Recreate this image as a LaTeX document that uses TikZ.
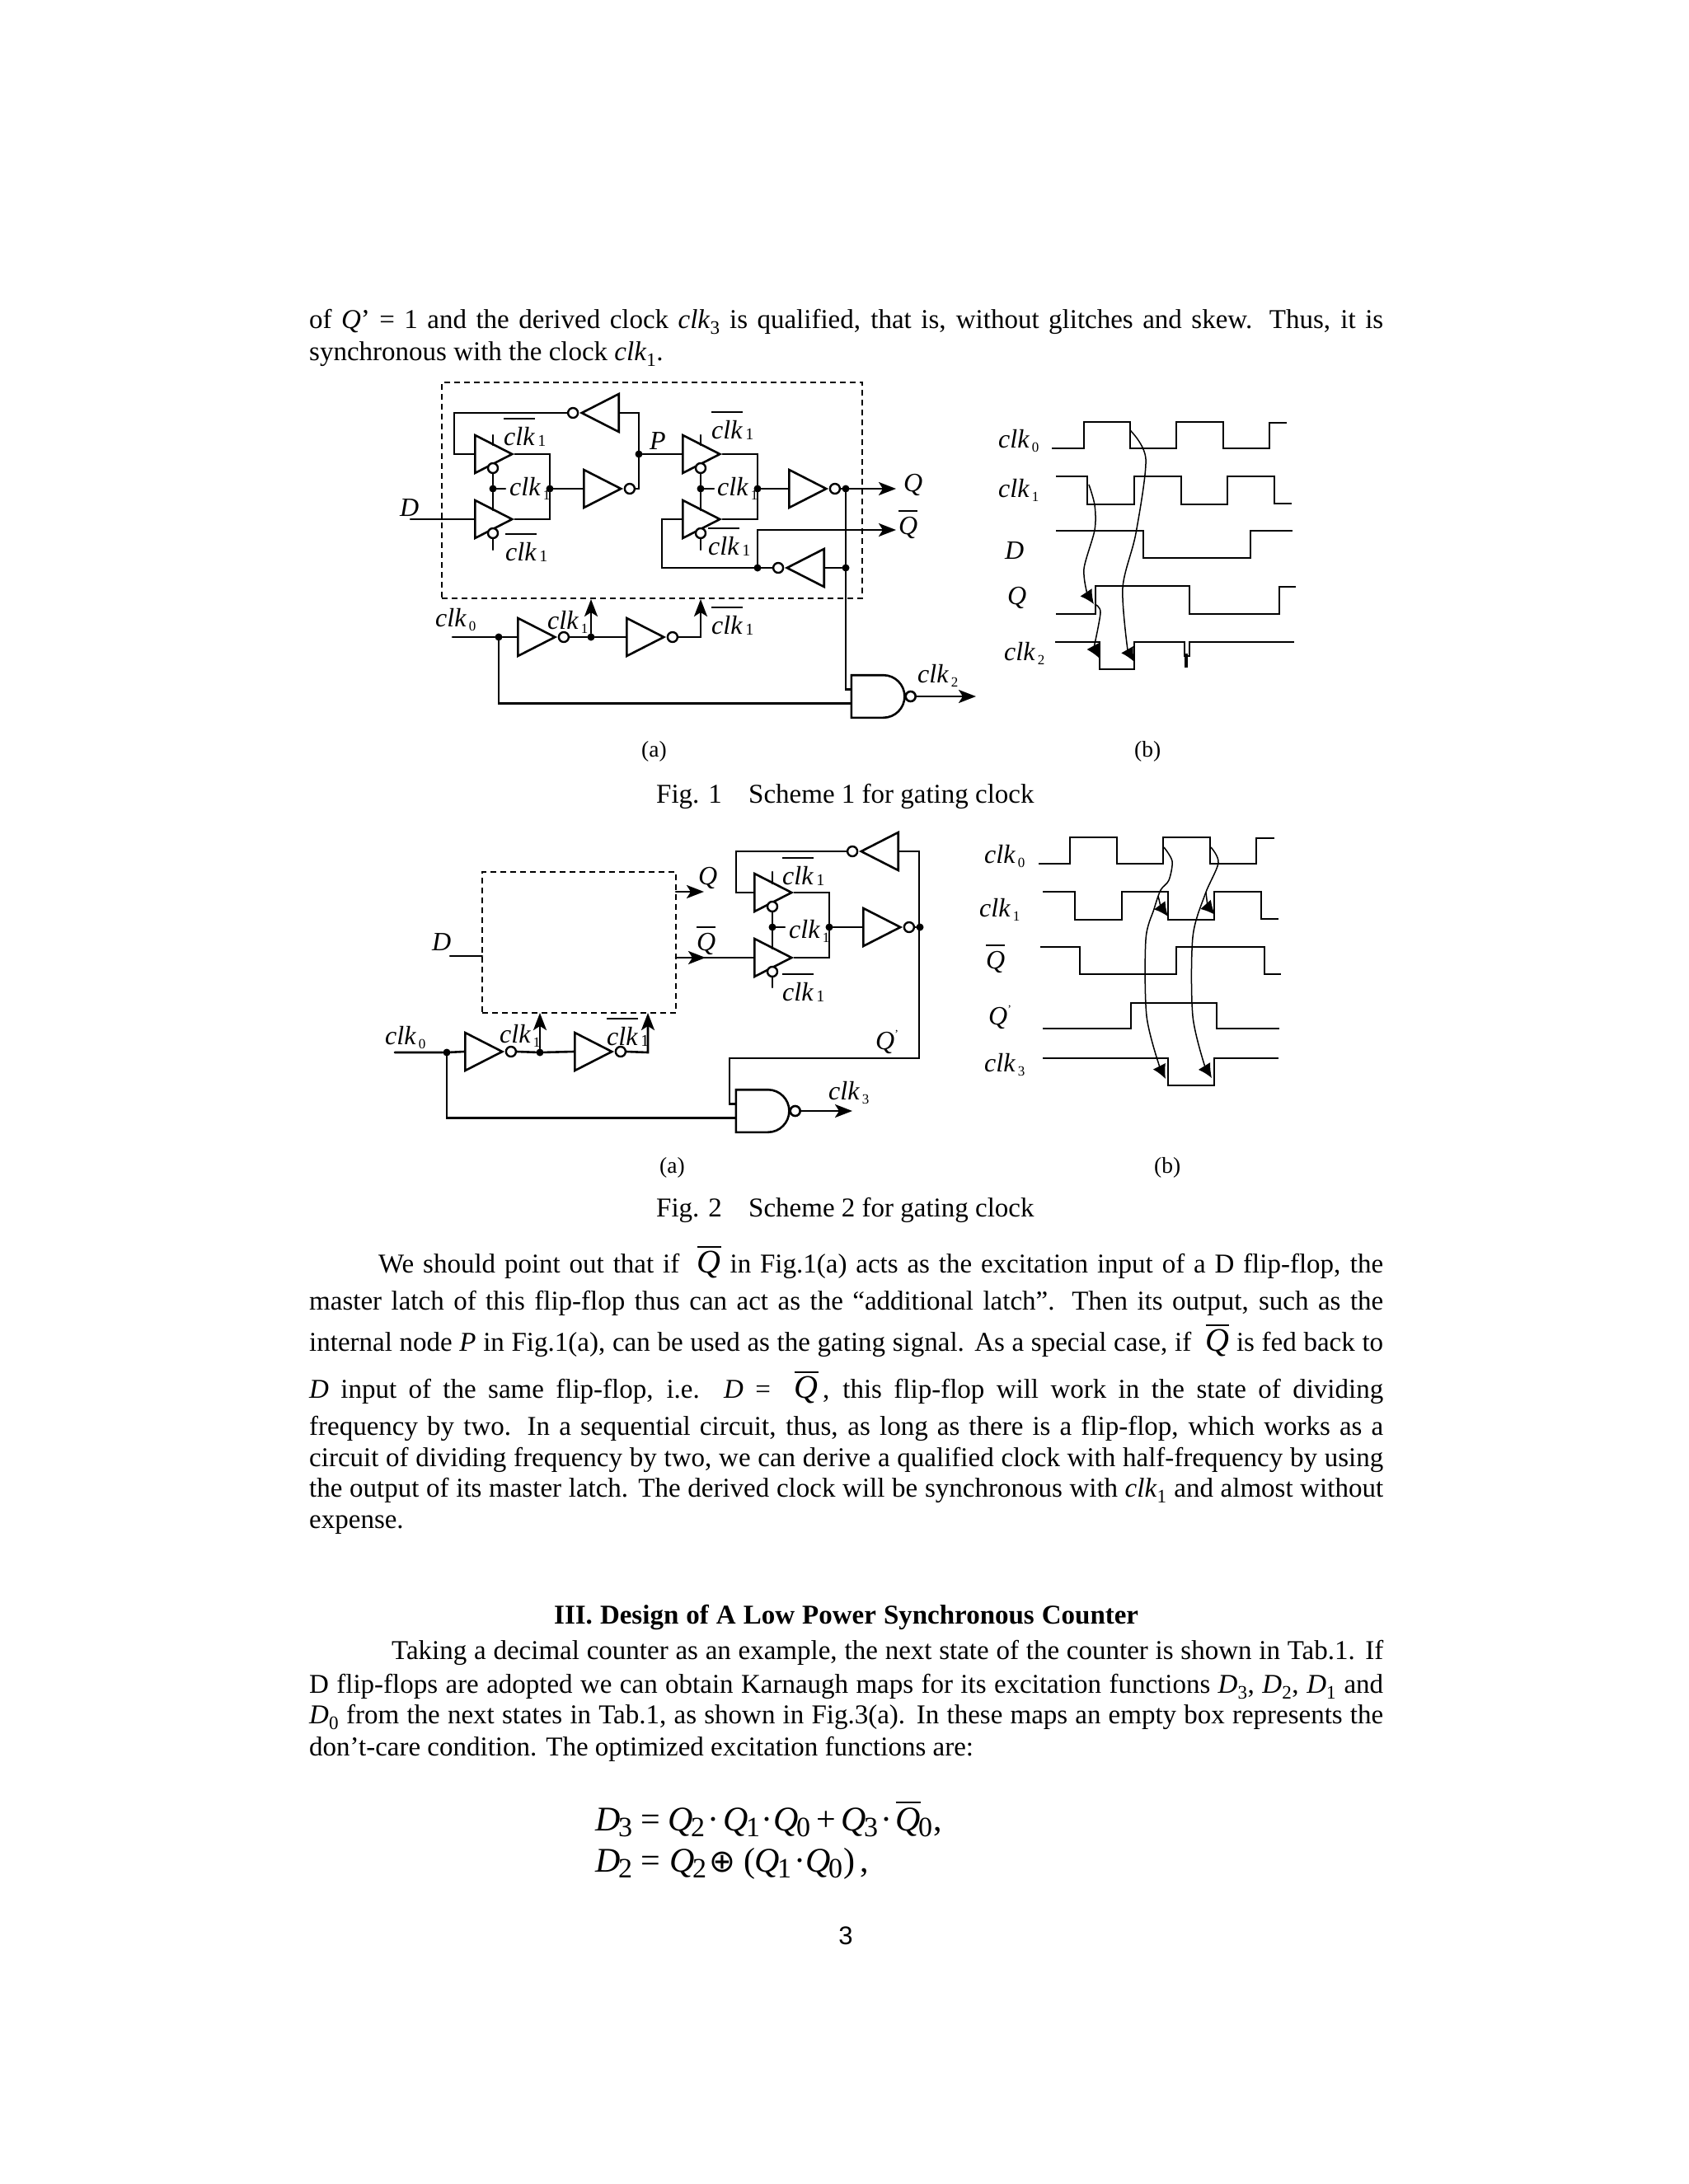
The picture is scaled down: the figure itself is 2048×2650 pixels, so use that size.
\documentclass[tikz,border=0pt]{standalone}
\usepackage{fontspec}
\setmainfont{Liberation Serif}
\newfontfamily\arialf{Liberation Sans}
\newfontfamily\djvf{DejaVu Sans}
\usetikzlibrary{arrows.meta,shapes.geometric,shapes.gates.logic.US}
\newcommand\bodyf{\fontsize{33}{38}\selectfont}
\newcommand\lbf{\fontsize{32}{32}\selectfont}
\newcommand\capf{\fontsize{27.5}{30}\selectfont}
\newcommand\eqf{\fontsize{42}{42}\selectfont\itshape}
\newcommand\ovr[2]{\leavevmode\vbox{\hrule height 2pt\vskip #1\hbox{#2}}}
\newcommand\clk[1]{\textit{clk}\raisebox{-5pt}{\fontsize{17}{17}\selectfont\,#1}}
\newcommand\clkb[1]{\ovr{9pt}{\textit{clk}}\raisebox{-1pt}{\fontsize{20}{20}\selectfont\,#1}}
\newcommand\qb{\ovr{6pt}{\textit{Q}}}
\newcommand\bq{{\fontsize{40}{40}\selectfont\ovr{4pt}{\textit{Q}}}}
\newcommand\ats[2]{\makebox[0pt][l]{\hspace{#1pt}#2}}
\newcommand\es[1]{\kern-3pt\raisebox{-7pt}{\fontsize{34}{34}\selectfont\upshape #1}}
\tikzset{
  wirex/.style={line width=2.6pt,line cap=round,line join=miter},
  thinw/.style={line width=1.5pt},
  gatex/.style={isosceles triangle,isosceles triangle stretches,draw,line width=2.6pt,inner sep=0pt,minimum width=46pt,minimum height=45pt},
  bub/.style={circle,draw,line width=2.4pt,fill=white,inner sep=0pt,minimum size=12pt},
  jdot/.style={circle,fill=black,inner sep=0pt,minimum size=9pt},
  boxd/.style={rectangle,draw,dashed,dash pattern=on 7pt off 5pt,line width=2pt,inner sep=0pt},
  nandg/.style={nand gate US,draw,logic gate inputs=nn,line width=2.6pt,inner sep=0pt,minimum height=45pt,minimum width=52pt,logic gate inverted radius=6pt},
  lab/.style={inner sep=0pt,anchor=base west,font=\lbf},
  tx/.style={inner sep=0pt,anchor=base west,font=\bodyf,yshift=-1.5pt},
  captxt/.style={inner sep=0pt,anchor=base west,font=\capf},
  arr/.style={-{Stealth[length=21pt,width=16pt,inset=5pt]}},
  harr/.style={thinw,-{Latex[length=17pt,width=17pt]}},
  wave/.style={line width=2.6pt,line join=miter},
}
\newcommand\invR[3]{\node[gatex,anchor=lower side] (#1) at (#2,#3) {}; \node[bub,anchor=west] (#1b) at (#1.apex) {};}
\newcommand\invL[3]{\node[gatex,shape border rotate=180,anchor=lower side] (#1) at (#2,#3) {}; \node[bub,anchor=east] (#1b) at (#1.apex) {};}
\newcommand\tg[3]{\node[gatex,anchor=lower side] (#1) at (#2,#3) {}; \coordinate (#1t) at (#2+23,#3-11); \node[bub] (#1b) at (#2+23,#3+17) {};}
\begin{document}
\begin{tikzpicture}[x=1pt,y=-1pt]
\useasboundingbox (0,0) rectangle (2048,2650);
\fill[white] (0,0) rectangle (2048,2650);
% ---------- body text top
\node[tx] (t1) at (375,397) {\makebox[1303pt][s]{of \textit{Q}’ = 1 and the derived clock \textit{clk}\textsubscript{3} is qualified, that is, without glitches and skew. Thus, it is}};
\node[tx] (t2) at (375,436) {synchronous with the clock \textit{clk}\textsubscript{1}.};
% ---------- Fig 1(a)
\node[boxd,minimum width=510pt,minimum height=262pt] (bx1) at (791,595) {};
\invL{f1}{752}{501}
\tg{a1}{575}{551} \tg{a2}{575}{630}
\invR{i1}{707}{593}
\tg{a3}{827}{551} \tg{a4}{827}{630}
\invR{i2}{956}{593}
\invL{f2}{1001}{689}
\invR{c1}{627}{773}
\invR{c2}{759}{773}
\node[jdot] (ja) at (598,593) {};
\node[jdot] (jb) at (667,593) {};
\node[jdot] (jp) at (775,551) {};
\node[jdot] (jc) at (850,593) {};
\node[jdot] (jd) at (919,593) {};
\node[jdot] (je) at (1026,593) {};
\node[jdot] (jf) at (919,689) {};
\node[jdot] (jg) at (1026,689) {};
\node[jdot] (jh) at (605,773) {};
\node[jdot] (ji) at (717,773) {};
\node[nandg] (n1) at (1063,845) {};
\coordinate (k1) at (551,501);
\coordinate (k2) at (775,501);
\coordinate (k3) at (803,630);
\coordinate (dIn) at (498,630);
\coordinate (oQ) at (1087,593);
\coordinate (oQb) at (1087,643);
\coordinate (kq) at (919,643);
\coordinate (c0) at (549,773);
\coordinate (up1) at (717,727);
\coordinate (up2) at (850,727);
\coordinate (kc2) at (850,773);
\coordinate (oc2) at (1184,845);
\draw[wirex] (f1b.west) -- (k1) |- (a1.lower side);
\draw[wirex] (i1b.east) -| (k2) -- (f1.lower side);
\draw[wirex] (jp) -- (a3.lower side);
\draw[wirex] (a1.apex) -| (jb) |- (a2.apex);
\draw[wirex] (jb) -- (i1.lower side);
\draw[wirex] (a1b.south) -- (ja) -- (a2t);
\draw[wirex] (a1t) -- (598,528);
\draw[wirex] (ja.center) -- (613,593);
\draw[wirex] (a2b.south) -- (598,667);
\draw[wirex] (dIn) -- (a2.lower side);
\draw[wirex] (a3.apex) -| (jd) |- (a4.apex);
\draw[wirex] (jd) -- (i2.lower side);
\draw[wirex] (a3b.south) -- (jc) -- (a4t);
\draw[wirex] (a3t) -- (850,528);
\draw[wirex] (jc.center) -- (866,593);
\draw[wirex] (a4b.south) -- (850,667);
\draw[wirex] (a4.lower side) -- (k3) |- (f2b.west);
\draw[wirex] (f2.lower side) -- (jg);
\draw[wirex] (i2b.east) -- (je);
\draw[wirex,arr] (je) -- (oQ);
\draw[wirex,arr] (jf) -- (kq) -- (oQb);
\draw[wirex] (je) -- (jg) |- (n1.input 1);
\draw[wirex] (c0) -- (jh) -- (c1.lower side);
\draw[wirex] (c1b.east) -- (ji) -- (c2.lower side);
\draw[wirex,arr] (ji) -- (up1);
\draw[wirex,arr] (c2b.east) -- (kc2) -- (up2);
\draw[wirex] (jh) |- (n1.input 2);
\draw[wirex,arr] (n1.output) -- (oc2);
\node[lab] (l1) at (611,540) {\clkb{1}};
\node[lab] (l2) at (618,601) {\clk{1}};
\node[lab] (l3) at (613,680) {\clkb{1}};
\node[lab] (l4) at (863,532) {\clkb{1}};
\node[lab] (l5) at (870,601) {\clk{1}};
\node[lab] (l6) at (859,673) {\clkb{1}};
\node[lab] (l7) at (528,760) {\clk{0}};
\node[lab] (l8) at (664,763) {\clk{1}};
\node[lab] (l9) at (863,769) {\clkb{1}};
\node[lab] (l10) at (1113,828) {\clk{2}};
\node[lab] (l11) at (788,545) {\textit{P}};
\node[lab] (l12) at (485,626) {\textit{D}};
\node[lab] (l13) at (1096,596) {\textit{Q}};
\node[lab] (l14) at (1090,648) {\qb};
% ---------- Fig 1(b)
\draw[wave] (1276,544) -- (1315,544) -- (1315,512) -- (1371,512) -- (1371,544) -- (1427,544) -- (1427,512) -- (1484,512) -- (1484,544) -- (1540,544) -- (1540,513) -- (1561,513);
\draw[wave] (1281,578) -- (1319,578) -- (1319,612) -- (1376,612) -- (1376,578) -- (1433,578) -- (1433,612) -- (1489,612) -- (1489,578) -- (1546,578) -- (1546,611) -- (1567,611);
\draw[wave] (1281,644) -- (1387,644) -- (1387,677) -- (1517,677) -- (1517,644) -- (1568,644);
\draw[wave] (1281,745) -- (1329,745) -- (1329,711) -- (1443,711) -- (1443,745) -- (1552,745) -- (1552,712) -- (1572,712);
\draw[wave] (1280,779) -- (1334,779) -- (1334,812) -- (1376,812) -- (1376,779) -- (1437,779) -- (1437,796) -- (1443,796) -- (1443,779) -- (1570,779);
\draw[line width=4pt] (1439,793) -- (1439,810);
\draw[thinw] plot[smooth] coordinates {(1321,588) (1328,613) (1328,643) (1315,690) (1319,721)};
\draw[harr] (1319,721) -- (1327,733);
\draw[thinw] plot[smooth] coordinates {(1328,733) (1335,743) (1327,786)};
\draw[harr] (1327,786) -- (1334,799);
\draw[thinw] plot[smooth] coordinates {(1371,522) (1390,557) (1378,647) (1362,713) (1368,789)};
\draw[harr] (1368,789) -- (1376,803);
\node[lab] (w1) at (1211,543) {\clk{0}};
\node[lab] (w2) at (1211,603) {\clk{1}};
\node[lab] (w3) at (1219,678) {\textit{D}};
\node[lab] (w4) at (1222,733) {\textit{Q}};
\node[lab] (w5) at (1218,801) {\clk{2}};
% captions 1
\node[captxt] (c1a) at (778,918) {(a)};
\node[captxt] (c1c) at (1376,918) {(b)};
\node[tx] (f1a) at (796,973) {Fig. 1};
\node[tx] (f1c) at (908,973) {Scheme 1 for gating clock};
% ---------- Fig 2(a)
\node[boxd,minimum width=235pt,minimum height=171pt] (bx2) at (702.5,1143.5) {};
\invL{g1}{1091}{1033}
\tg{b1}{914}{1083} \tg{b2}{914}{1162}
\invR{g2}{1046}{1125}
\invR{d1}{563}{1276}
\invR{d2}{696}{1276}
\node[jdot] (ma) at (937,1125) {};
\node[jdot] (mb) at (1006,1125) {};
\node[jdot] (mc) at (1116,1125) {};
\node[jdot] (md) at (542,1277) {};
\node[jdot] (me) at (655,1277) {};
\node[nandg] (n2) at (923,1348) {};
\coordinate (m1) at (893,1033);
\coordinate (m2) at (1115,1033);
\coordinate (m3) at (1115,1284);
\coordinate (m4) at (885,1284);
\coordinate (q1) at (820,1082);
\coordinate (q1e) at (854,1082);
\coordinate (q2) at (820,1162);
\coordinate (q2e) at (856,1162);
\coordinate (dI) at (546,1160);
\coordinate (dE) at (585,1160);
\coordinate (r0) at (479,1277);
\coordinate (u1) at (655,1229);
\coordinate (u2) at (786,1229);
\coordinate (kd2) at (786,1277);
\coordinate (oc3) at (1034,1348);
\draw[wirex] (g1b.west) -- (m1) |- (b1.lower side);
\draw[wirex] (g1.lower side) -- (m2) -- (m3) -- (m4) |- (n2.input 1);
\draw[wirex] (b1.apex) -| (mb) |- (b2.apex);
\draw[wirex] (mb) -- (g2.lower side);
\draw[wirex] (g2b.east) -- (mc);
\draw[wirex] (b1b.south) -- (ma) -- (b2t);
\draw[wirex] (b1t) -- (937,1058);
\draw[wirex] (ma.center) -- (952,1125);
\draw[wirex] (b2b.south) -- (937,1198);
\draw[wirex,arr] (q1) -- (q1e);
\draw[wirex] (q2) -- (b2.lower side);
\draw[wirex,arr] (q2) -- (q2e);
\draw[wirex] (dI) -- (dE);
\draw[wirex] (r0) -- (md) -- (d1.lower side);
\draw[wirex] (d1b.east) -- (me) -- (d2.lower side);
\draw[wirex,arr] (me) -- (u1);
\draw[wirex,arr] (d2b.east) -- (kd2) -- (u2);
\draw[wirex] (md) |- (n2.input 2);
\draw[wirex,arr] (n2.output) -- (oc3);
\node[lab] (s1) at (467,1267) {\clk{0}};
\node[lab] (s2) at (606,1265) {\clk{1}};
\node[lab] (s3) at (736,1268) {\clkb{1}};
\node[lab] (s4) at (524,1153) {\textit{D}};
\node[lab] (s5) at (847,1073) {\textit{Q}};
\node[lab] (s6) at (845,1153) {\qb};
\node[lab] (s7) at (949,1073) {\clkb{1}};
\node[lab] (s8) at (957,1138) {\clk{1}};
\node[lab] (s9) at (949,1214) {\clkb{1}};
\node[lab] (s10) at (1062,1273) {\textit{Q}\raisebox{14pt}{\fontsize{14}{14}\selectfont '}};
\node[lab] (s11) at (1005,1334) {\clk{3}};
% ---------- Fig 2(b)
\draw[wave] (1260,1048) -- (1298,1048) -- (1298,1016) -- (1355,1016) -- (1355,1048) -- (1411,1048) -- (1411,1016) -- (1468,1016) -- (1468,1048) -- (1524,1048) -- (1524,1017) -- (1546,1017);
\draw[wave] (1265,1082) -- (1304,1082) -- (1304,1116) -- (1361,1116) -- (1361,1082) -- (1417,1082) -- (1417,1116) -- (1473,1116) -- (1473,1082) -- (1530,1082) -- (1530,1115) -- (1551,1115);
\draw[wave] (1262,1149) -- (1310,1149) -- (1310,1182) -- (1427,1182) -- (1427,1149) -- (1534,1149) -- (1534,1182) -- (1554,1182);
\draw[wave] (1265,1248) -- (1372,1248) -- (1372,1217) -- (1476,1217) -- (1476,1248) -- (1552,1248);
\draw[wave] (1265,1284) -- (1417,1284) -- (1417,1317) -- (1473,1317) -- (1473,1284) -- (1551,1284);
\draw[thinw] plot[smooth] coordinates {(1412,1028) (1422,1045) (1418,1068) (1408,1080) (1400,1103) (1390,1140) (1391,1233) (1407,1295)};
\draw[harr] (1407,1295) -- (1414,1309);
\draw[thinw] (1405,1087) -- (1408,1100);
\draw[harr] (1408,1100) -- (1417,1112);
\draw[thinw] plot[smooth] coordinates {(1469,1028) (1478,1047) (1462,1085) (1447,1137) (1447,1233) (1462,1295)};
\draw[harr] (1462,1295) -- (1470,1308);
\draw[thinw] (1463,1083) -- (1465,1100);
\draw[harr] (1465,1100) -- (1474,1110);
\node[lab] (v1) at (1194,1047) {\clk{0}};
\node[lab] (v2) at (1188,1112) {\clk{1}};
\node[lab] (v3) at (1196,1175) {\qb};
\node[lab] (v4) at (1199,1243) {\textit{Q}\raisebox{14pt}{\fontsize{14}{14}\selectfont '}};
\node[lab] (v5) at (1194,1300) {\clk{3}};
% captions 2
\node[captxt] (c2a) at (800,1423) {(a)};
\node[captxt] (c2c) at (1400,1423) {(b)};
\node[tx] (f2a) at (796,1475) {Fig. 2};
\node[tx] (f2c) at (908,1475) {Scheme 2 for gating clock};
% ---------- paragraph
\node[tx] (p1) at (459,1543) {\makebox[1219pt][s]{We should point out that if \ \bq\ in Fig.1(a) acts as the excitation input of a D flip-flop, the}};
\node[tx] (p2) at (375,1588) {\makebox[1303pt][s]{master latch of this flip-flop thus can act as the “additional latch”. Then its output, such as the}};
\node[tx] (p3) at (375,1638) {\makebox[1303pt][s]{internal node \textit{P} in Fig.1(a), can be used as the gating signal. As a special case, if \ \bq\ is fed back to}};
\node[tx] (p4) at (375,1695) {\makebox[1303pt][s]{\textit{D} input of the same flip-flop, i.e. \textit{D} = \ \bq\,, this flip-flop will work in the state of dividing}};
\node[tx] (p5) at (375,1740) {\makebox[1303pt][s]{frequency by two. In a sequential circuit, thus, as long as there is a flip-flop, which works as a}};
\node[tx] (p6) at (375,1778) {\makebox[1303pt][s]{circuit of dividing frequency by two, we can derive a qualified clock with half-frequency by using}};
\node[tx] (p7) at (375,1815) {\makebox[1303pt][s]{the output of its master latch. The derived clock will be synchronous with \textit{clk}\textsubscript{1} and almost without}};
\node[tx] (p8) at (375,1853) {expense.};
% ---------- section
\node[tx] (h1) at (672,1969) {\makebox[709pt][s]{\bfseries III. Design of A Low Power Synchronous Counter}};
\node[tx] (q1t) at (475,2012) {\makebox[1203pt][s]{Taking a decimal counter as an example, the next state of the counter is shown in Tab.1. If}};
\node[tx] (q2t) at (375,2053) {\makebox[1303pt][s]{D flip-flops are adopted we can obtain Karnaugh maps for its excitation functions \textit{D}\textsubscript{3}, \textit{D}\textsubscript{2}, \textit{D}\textsubscript{1} and}};
\node[tx] (q3t) at (375,2090) {\makebox[1303pt][s]{\textit{D}\textsubscript{0} from the next states in Tab.1, as shown in Fig.3(a). In these maps an empty box represents the}};
\node[tx] (q4t) at (375,2129) {don’t-care condition. The optimized excitation functions are:};
% ---------- equations
\node[inner sep=0pt,anchor=base west,font=\eqf] (e1) at (722,2221) {\ats{0}{D\es{3}}\ats{55}{\upshape =}\ats{88}{Q\es{2}}\ats{136}{\upshape\textperiodcentered}\ats{155}{Q\es{1}}\ats{201}{\upshape\textperiodcentered}\ats{216}{Q\es{0}}\ats{268}{\upshape +}\ats{298}{Q\es{3}}\ats{346}{\upshape\textperiodcentered}\ats{364}{\ovr{5pt}{Q}\es{0}}\ats{410}{\upshape ,}};
\node[inner sep=0pt,anchor=base west,font=\eqf] (e2) at (722,2271) {\ats{0}{D\es{2}}\ats{55}{\upshape =}\ats{90}{Q\es{2}}\ats{138}{\djvf\upshape\fontsize{38}{38}\selectfont ⊕}\ats{180}{\upshape (}\ats{193}{Q\es{1}}\ats{241}{\upshape\textperiodcentered}\ats{255}{Q\es{0}}\ats{301}{\upshape )}\ats{321}{\upshape ,}};
\node[inner sep=0pt,anchor=base,font={\arialf\fontsize{31}{31}\selectfont}] (pg) at (1026,2359) {3};
\end{tikzpicture}
\end{document}
